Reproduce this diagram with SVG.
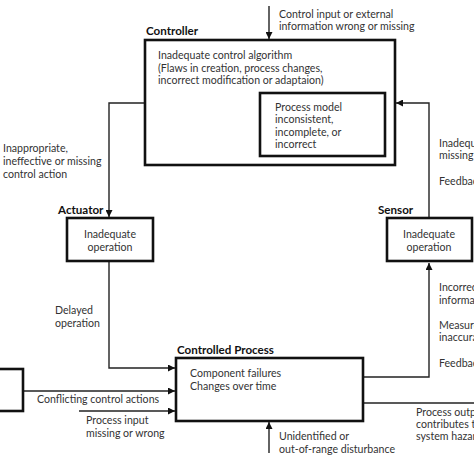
<svg xmlns="http://www.w3.org/2000/svg" width="474" height="474" viewBox="0 0 474 474">
<style>
text{font-family:Lato,"Open Sans","Liberation Sans",sans-serif;font-size:10.6px;fill:#333}
.t{font-weight:bold;fill:#111;font-size:11.6px}
.box{fill:#fff;stroke:#111;stroke-width:2.6}
.ln{fill:none;stroke:#222;stroke-width:1.4}
</style>
<defs>
<marker id="ah" viewBox="0 0 10 10" refX="10" refY="5" markerWidth="7" markerHeight="7" markerUnits="userSpaceOnUse" orient="auto">
<path d="M0,0 L10,5 L0,10 z" fill="#111"/>
</marker>
</defs>
<rect width="474" height="474" fill="#fff"/>
<g id="connectors">
<path class="ln" d="M269,6 V39" marker-end="url(#ah)"/>
<path class="ln" d="M144,103 H109 V217" marker-end="url(#ah)"/>
<path class="ln" d="M109,262 V368 H175" marker-end="url(#ah)"/>
<path class="ln" d="M23,391 H175" marker-end="url(#ah)"/>
<path class="ln" d="M79,411 H175" marker-end="url(#ah)"/>
<path class="ln" d="M269,453 V422" marker-end="url(#ah)"/>
<path class="ln" d="M364,377 H429 V263" marker-end="url(#ah)"/>
<path class="ln" d="M429,218 V103 H396" marker-end="url(#ah)"/>
<path class="ln" d="M364,403 H474"/>
</g>
<g id="labels">
<text x="279" y="18">Control input or external</text>
<text x="279" y="30">information wrong or missing</text>
<text x="3" y="152">Inappropriate,</text>
<text x="3" y="165">ineffective or missing</text>
<text x="3" y="178">control action</text>
<text x="55" y="314">Delayed</text>
<text x="55" y="327">operation</text>
<text x="37" y="403">Conflicting control actions</text>
<text x="86" y="424">Process input</text>
<text x="86" y="437">missing or wrong</text>
<text x="279" y="440">Unidentified or</text>
<text x="279" y="453">out-of-range disturbance</text>
<text x="439" y="147">Inadequate or</text>
<text x="439" y="159">missing feedback</text>
<text x="439" y="185">Feedback delays</text>
<text x="439" y="291">Incorrect or no</text>
<text x="439" y="304">information provided</text>
<text x="439" y="329">Measurement</text>
<text x="439" y="341">inaccuracies</text>
<text x="439" y="367">Feedback delays</text>
<text x="416" y="416">Process output</text>
<text x="416" y="428">contributes to</text>
<text x="416" y="440">system hazard</text>
</g>
<g id="controller">
<text class="t" x="146" y="35">Controller</text>
<rect class="box" x="145" y="40" width="250" height="125"/>
<text x="158" y="59">Inadequate control algorithm</text>
<text x="158" y="72">(Flaws in creation, process changes,</text>
<text x="158" y="84">incorrect modification or adaptaion)</text>
</g>
<g id="process-model">
<rect class="box" x="260" y="93" width="125" height="63"/>
<text x="275" y="111">Process model</text>
<text x="275" y="123">inconsistent,</text>
<text x="275" y="136">incomplete, or</text>
<text x="275" y="148">incorrect</text>
</g>
<g id="actuator">
<text class="t" x="58" y="214">Actuator</text>
<rect class="box" x="67" y="218" width="86" height="43"/>
<text x="110" y="238" text-anchor="middle">Inadequate</text>
<text x="110" y="251" text-anchor="middle">operation</text>
</g>
<g id="sensor">
<text class="t" x="378" y="214">Sensor</text>
<rect class="box" x="387" y="218" width="85" height="43"/>
<text x="429" y="238" text-anchor="middle">Inadequate</text>
<text x="429" y="251" text-anchor="middle">operation</text>
</g>
<g id="controlled-process">
<text class="t" x="177" y="354">Controlled Process</text>
<rect class="box" x="176" y="358" width="187" height="63"/>
<text x="190" y="377">Component failures</text>
<text x="190" y="390">Changes over time</text>
</g>
<g id="other-controller">
<rect class="box" x="-10" y="369" width="33" height="42"/>
</g>
</svg>
